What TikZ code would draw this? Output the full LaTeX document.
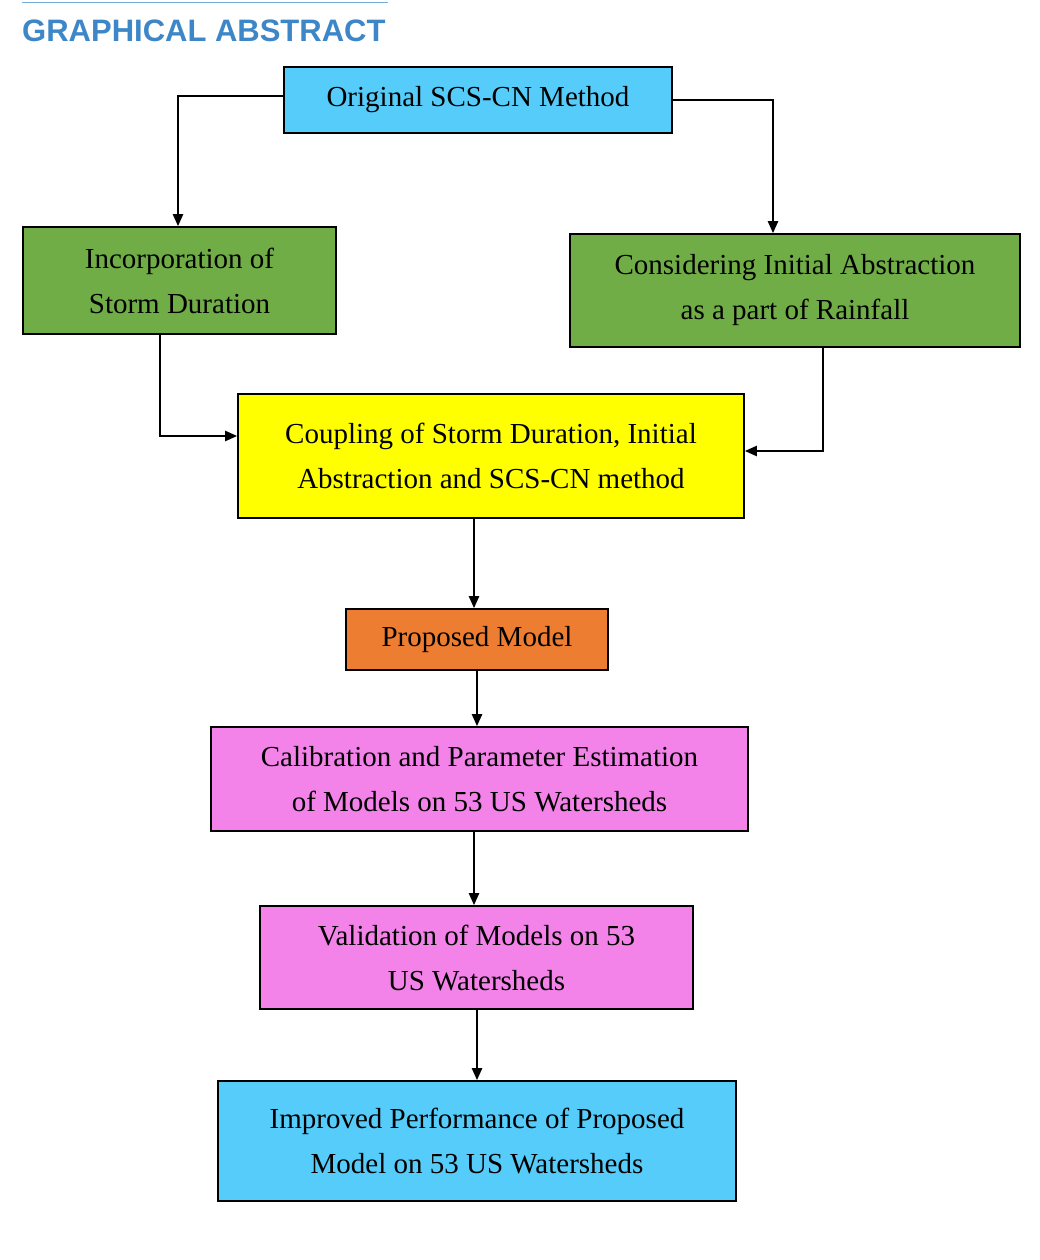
\documentclass[tikz,border=0pt]{standalone}
\usepackage{fontspec}
\setmainfont{Liberation Serif}
\newfontfamily\hdr{Liberation Sans}
\usetikzlibrary{arrows.meta}
\definecolor{cy}{HTML}{55CCFA}
\definecolor{gr}{HTML}{70AD47}
\definecolor{ye}{HTML}{FFFF00}
\definecolor{orr}{HTML}{ED7D31}
\definecolor{pk}{HTML}{F383E9}
\definecolor{hb}{HTML}{3D87C8}
\begin{document}
\begin{tikzpicture}[x=1pt,y=-1pt,
  box/.style={draw=black,line width=1.6pt,inner sep=0pt,align=center,font=\fontsize{29}{45}\selectfont},
  arr/.style={line width=2.2pt,-{Triangle[length=12pt,width=10pt]}}]
\useasboundingbox (0,0) rectangle (1040,1260);
\fill[white] (0,0) rectangle (1040,1260);
\draw[hb!70,line width=0.8pt] (22,2) -- (388,2);
\node[anchor=base west,inner sep=0,text=hb,font=\hdr\bfseries\fontsize{31}{31}\selectfont] (h) at (22,42) {GRAPHICAL ABSTRACT};
\node[box,fill=cy,minimum width=388,minimum height=66] (o) at (478,100) {Original SCS-CN Method};
\node[box,fill=gr,minimum width=313,minimum height=107] (i) at (179.5,280.5) {Incorporation of\\Storm Duration};
\node[box,fill=gr,minimum width=450,minimum height=113] (c) at (795,290.5) {Considering Initial Abstraction\\as a part of Rainfall};
\node[box,fill=ye,minimum width=506,minimum height=124] (cp) at (491,456) {Coupling of Storm Duration, Initial\\Abstraction and SCS-CN method};
\node[box,fill=orr,minimum width=262,minimum height=61] (p) at (477,639.5) {Proposed Model};
\node[box,fill=pk,minimum width=537,minimum height=104] (ca) at (479.5,779) {Calibration and Parameter Estimation\\of Models on 53 US Watersheds};
\node[box,fill=pk,minimum width=433,minimum height=103] (v) at (476.5,957.5) {Validation of Models on 53\\US Watersheds};
\node[box,fill=cy,minimum width=518,minimum height=120] (im) at (477,1141) {Improved Performance of Proposed\\Model on 53 US Watersheds};
\draw[arr] (o.west |- 0,96) -| (i.north -| 178,0);
\draw[arr] (o.east) -| (c.north -| 773,0);
\draw[arr] (i.south -| 160,0) |- (cp.west |- 0,436);
\draw[arr] (c.south -| 823,0) |- (cp.east |- 0,451);
\draw[arr] (cp.south -| 474,0) -- (p.north -| 474,0);
\draw[arr] (p.south) -- (ca.north -| p.south);
\draw[arr] (ca.south -| 474,0) -- (v.north -| 474,0);
\draw[arr] (v.south -| 477,0) -- (im.north -| 477,0);
\end{tikzpicture}
\end{document}
